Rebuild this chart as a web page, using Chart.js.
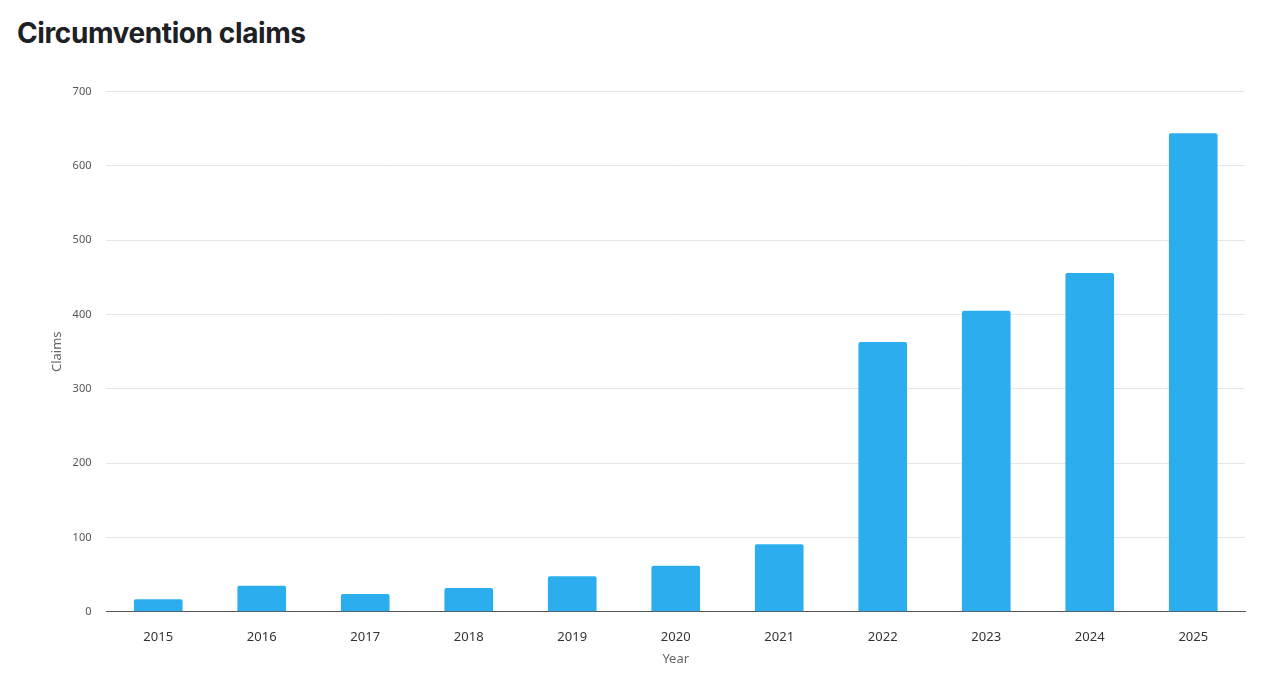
<!DOCTYPE html>
<html>
<head>
<meta charset="utf-8">
<script src="https://cdn.jsdelivr.net/npm/chart.js@4"></script>
<style>
  body { margin: 0; background: #fff; width: 1280px; height: 677px; overflow: hidden; position: relative; }
  h1 { position: absolute; left: 17px; top: 16px; margin: 0; font-family: Inter, sans-serif; font-weight: 700; font-size: 28px; color: #1d2024; letter-spacing: -0.4px; }
  .wrap { position: absolute; left: 0; top: 70px; width: 1280px; height: 607px; }
</style>
</head>
<body>
<h1>Circumvention claims</h1>
<div class="wrap"><canvas id="chart"></canvas></div>
<script>
// ===== CHART DATA =====
const years = ['2015', '2016', '2017', '2018', '2019', '2020', '2021', '2022', '2023', '2024', '2025'];
const claims = [17, 35, 24, 32, 48, 62, 91, 363, 405, 456, 644];
const yTicks = [0, 100, 200, 300, 400, 500, 600, 700];

document.addEventListener('DOMContentLoaded', function() {
    const ctx = document.getElementById('chart');
    new Chart(ctx, {
        type: 'bar',
        data: {
            labels: years,
            datasets: [{ label: 'Claims', data: claims, backgroundColor: '#2caeee', borderRadius: 2, borderSkipped: 'bottom', barPercentage: 0.47, categoryPercentage: 1 }]
        },
        options: {
            responsive: true,
            maintainAspectRatio: false,
            animation: false,
            layout: { padding: { left: 49, right: 35, top: 8, bottom: 10 } },
            plugins: { legend: { display: false }, tooltip: { enabled: false } },
            scales: {
                x: {
                    grid: { display: false },
                    border: { display: true, color: '#555', width: 1 },
                    ticks: { color: '#333', font: { family: 'Segoe UI, Noto Sans, sans-serif', size: 13 }, padding: 10 },
                    title: { display: true, text: 'Year', color: '#666', font: { family: 'Segoe UI, Noto Sans, sans-serif', size: 13 }, padding: { top: -4, bottom: 0 } }
                },
                y: {
                    min: 0, max: 700,
                    afterBuildTicks: axis => { axis.ticks = yTicks.map(v => ({ value: v })); },
                    grid: { color: '#e6e6e6', drawTicks: false },
                    border: { display: false },
                    ticks: { color: '#555', font: { family: 'Segoe UI, Noto Sans, sans-serif', size: 11 }, padding: 15 },
                    title: { display: true, text: 'Claims', color: '#666', font: { family: 'Segoe UI, Noto Sans, sans-serif', size: 13 }, padding: { top: 0, bottom: -7 } }
                }
            }
        }
    });
});
</script>
</body>
</html>
